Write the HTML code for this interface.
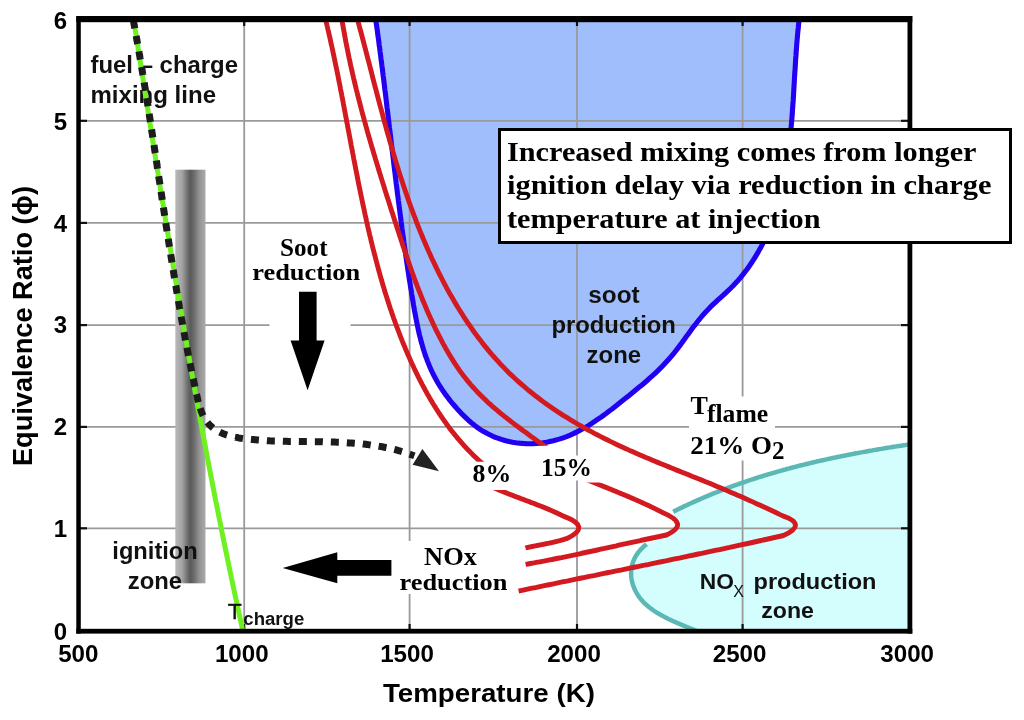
<!DOCTYPE html>
<html><head><meta charset="utf-8"><title>Equivalence ratio vs temperature</title>
<style>
html,body{margin:0;padding:0;background:#fff;}
body{width:1024px;height:720px;overflow:hidden;}
svg{display:block;}
.sans{font-family:"Liberation Sans",Arial,sans-serif;font-weight:bold;}
.serif{font-family:"Liberation Serif","Times New Roman",serif;font-weight:bold;}
</style></head><body>
<svg width="1024" height="720" viewBox="0 0 1024 720">
<defs>
<linearGradient id="bar" x1="0" x2="1" y1="0" y2="0">
<stop offset="0" stop-color="#b8b8b8"/><stop offset="0.22" stop-color="#a4a4a4"/>
<stop offset="0.4" stop-color="#707070"/><stop offset="0.5" stop-color="#5a5a5a"/>
<stop offset="0.62" stop-color="#6c6c6c"/><stop offset="0.8" stop-color="#939393"/>
<stop offset="1" stop-color="#ababab"/></linearGradient>
<clipPath id="plot"><rect x="78" y="19" width="832" height="612"/></clipPath>
<clipPath id="c8a"><rect x="0" y="0" width="1024" height="461.8"/></clipPath>
<clipPath id="c8b"><rect x="0" y="490" width="1024" height="300"/></clipPath>
<clipPath id="c15a"><rect x="0" y="0" width="1024" height="445.8"/></clipPath>
<clipPath id="c15b"><rect x="0" y="482.4" width="1024" height="300"/></clipPath>
</defs>
<rect x="0" y="0" width="1024" height="720" fill="#fff"/>

<g clip-path="url(#plot)">
<path d="M375.0,14.0 375.5,17.5 375.9,20.9 376.4,24.4 376.9,27.8 377.4,31.2 377.8,34.7 378.3,38.1 378.8,41.6 379.2,45.1 379.7,48.5 380.1,52.0 380.6,55.4 381.0,58.9 381.5,62.3 381.9,65.8 382.4,69.2 382.8,72.7 383.2,76.1 383.7,79.6 384.1,83.1 384.5,86.5 384.9,90.0 385.4,93.4 385.8,96.9 386.2,100.4 386.6,103.8 387.0,107.3 387.5,110.8 387.9,114.2 388.3,117.7 388.7,121.1 389.1,124.6 389.5,128.1 390.0,131.5 390.4,135.0 390.8,138.5 391.2,141.9 391.6,145.4 392.0,148.9 392.4,152.3 392.9,155.8 393.3,159.3 393.7,162.7 394.1,166.2 394.5,169.7 395.0,173.1 395.4,176.6 395.8,180.0 396.2,183.5 396.7,187.0 397.1,190.4 397.5,193.9 398.0,197.4 398.4,200.8 398.9,204.3 399.3,207.7 399.8,211.2 400.2,214.7 400.7,218.1 401.1,221.6 401.6,225.1 402.0,228.5 402.5,232.0 403.0,235.4 403.5,238.9 403.9,242.3 404.4,245.8 404.9,249.2 405.4,252.7 405.9,256.2 406.4,259.6 406.9,263.1 407.4,266.5 407.9,270.0 408.5,273.4 409.0,276.9 409.5,280.3 410.1,283.8 410.6,287.2 411.2,290.6 411.7,294.1 412.3,297.5 412.9,301.0 413.4,304.4 414.0,307.8 414.6,311.3 415.3,314.7 415.9,318.1 416.6,321.5 417.3,324.9 418.0,328.3 418.7,331.7 419.5,335.1 420.4,338.4 421.2,341.8 422.2,345.1 423.1,348.4 424.2,351.7 425.2,355.0 426.4,358.2 427.6,361.4 428.9,364.6 430.2,367.8 431.6,370.9 433.1,374.0 434.7,377.1 436.4,380.2 438.1,383.2 439.9,386.2 441.8,389.1 443.8,392.1 445.8,394.9 448.0,397.8 450.1,400.6 452.4,403.3 454.7,406.0 457.0,408.7 459.4,411.3 461.9,413.9 464.4,416.4 467.0,418.9 469.6,421.3 472.3,423.6 475.1,425.8 477.9,427.9 480.8,429.8 483.7,431.6 486.8,433.3 489.8,434.8 492.9,436.3 496.1,437.6 499.3,438.7 502.6,439.8 505.8,440.7 509.1,441.5 512.5,442.2 515.9,442.7 519.2,443.1 522.6,443.4 526.0,443.6 529.5,443.7 532.9,443.6 536.3,443.4 539.7,443.1 543.1,442.7 546.6,442.2 549.9,441.5 553.3,440.8 556.6,439.9 560.0,438.9 563.2,437.8 566.5,436.6 569.7,435.3 572.9,433.9 576.0,432.4 579.2,430.8 582.3,429.1 585.3,427.4 588.4,425.6 591.4,423.7 594.4,421.7 597.3,419.7 600.3,417.7 603.2,415.6 606.1,413.5 608.9,411.3 611.8,409.2 614.6,407.0 617.4,404.8 620.2,402.5 623.0,400.3 625.8,398.1 628.5,395.9 631.2,393.7 633.9,391.5 636.6,389.3 639.3,387.1 642.0,384.9 644.6,382.7 647.2,380.5 649.7,378.2 652.3,375.9 654.8,373.6 657.2,371.3 659.7,368.9 662.1,366.5 664.4,364.1 666.7,361.6 669.0,359.0 671.3,356.4 673.4,353.8 675.6,351.1 677.7,348.4 679.8,345.6 681.9,342.8 683.9,340.0 686.0,337.1 688.1,334.3 690.1,331.5 692.2,328.6 694.3,325.8 696.5,323.0 698.6,320.3 700.9,317.5 703.1,314.9 705.5,312.2 707.9,309.7 710.3,307.2 712.9,304.7 715.4,302.3 718.0,299.9 720.6,297.6 723.3,295.2 725.8,292.8 728.4,290.4 730.9,288.0 733.4,285.5 735.7,283.0 738.1,280.4 740.3,277.8 742.5,275.1 744.6,272.4 746.7,269.7 748.7,266.9 750.7,264.1 752.6,261.2 754.4,258.3 756.2,255.4 758.0,252.4 759.6,249.4 761.3,246.4 762.8,243.3 764.3,240.2 765.8,237.1 767.2,233.9 768.6,230.7 769.9,227.5 771.2,224.3 772.4,221.1 773.6,217.8 774.7,214.5 775.8,211.2 776.8,207.9 777.8,204.6 778.8,201.2 779.7,197.9 780.6,194.5 781.4,191.1 782.2,187.7 783.0,184.3 783.7,180.9 784.4,177.5 785.0,174.1 785.6,170.6 786.2,167.2 786.8,163.7 787.3,160.3 787.8,156.8 788.3,153.3 788.8,149.8 789.2,146.4 789.6,142.9 790.0,139.4 790.3,135.9 790.7,132.4 791.0,128.9 791.3,125.3 791.6,121.8 791.9,118.3 792.2,114.8 792.4,111.3 792.7,107.8 792.9,104.2 793.2,100.7 793.4,97.2 793.6,93.7 793.8,90.2 794.0,86.7 794.2,83.2 794.4,79.6 794.6,76.1 794.8,72.6 795.1,69.1 795.3,65.7 795.5,62.2 795.7,58.7 796.0,55.2 796.2,51.7 796.5,48.3 796.7,44.8 797.0,41.4 797.3,37.9 797.6,34.5 797.9,31.1 798.3,27.7 798.6,24.3 799.0,20.9 799.4,17.5 799.8,14.2 Z" fill="#9fbefb"/>
<path d="M915.0,443.6 913.8,443.8 912.5,444.0 911.3,444.2 910.0,444.3 908.8,444.5 907.5,444.7 906.3,444.9 905.0,445.1 903.8,445.3 902.5,445.5 901.3,445.7 900.0,445.9 898.8,446.0 897.5,446.2 896.2,446.4 895.0,446.6 893.7,446.8 892.5,447.0 891.2,447.2 890.0,447.4 888.7,447.6 887.5,447.8 886.2,448.0 885.0,448.2 883.7,448.4 882.5,448.7 881.2,448.9 880.0,449.1 878.7,449.3 877.5,449.5 876.2,449.7 875.0,449.9 873.7,450.1 872.5,450.4 871.2,450.6 870.0,450.8 868.7,451.0 867.5,451.2 866.2,451.5 865.0,451.7 863.7,451.9 862.5,452.1 861.2,452.4 860.0,452.6 858.8,452.8 857.5,453.1 856.3,453.3 855.0,453.5 853.8,453.8 852.5,454.0 851.3,454.3 850.0,454.5 848.8,454.7 847.5,455.0 846.3,455.2 845.0,455.5 843.8,455.7 842.5,456.0 841.3,456.2 840.1,456.5 838.8,456.7 837.6,457.0 836.3,457.3 835.1,457.5 833.8,457.8 832.6,458.0 831.4,458.3 830.1,458.6 828.9,458.8 827.6,459.1 826.4,459.4 825.2,459.7 823.9,459.9 822.7,460.2 821.4,460.5 820.2,460.8 819.0,461.1 817.7,461.3 816.5,461.6 815.2,461.9 814.0,462.2 812.8,462.5 811.5,462.8 810.3,463.1 809.1,463.4 807.8,463.7 806.6,464.0 805.4,464.3 804.1,464.6 802.9,464.9 801.7,465.2 800.4,465.5 799.2,465.8 798.0,466.1 796.7,466.4 795.5,466.8 794.3,467.1 793.1,467.4 791.8,467.7 790.6,468.0 789.4,468.4 788.2,468.7 786.9,469.0 785.7,469.4 784.5,469.7 783.3,470.0 782.0,470.4 780.8,470.7 779.6,471.1 778.4,471.4 777.2,471.8 775.9,472.1 774.7,472.5 773.5,472.8 772.3,473.2 771.1,473.5 769.8,473.9 768.6,474.2 767.4,474.6 766.2,475.0 765.0,475.3 763.8,475.7 762.6,476.1 761.4,476.5 760.1,476.8 758.9,477.2 757.7,477.6 756.5,478.0 755.3,478.4 754.1,478.8 752.9,479.2 751.7,479.6 750.5,479.9 749.3,480.3 748.1,480.7 746.9,481.1 745.7,481.6 744.5,482.0 743.3,482.4 742.1,482.8 740.9,483.2 739.7,483.6 738.5,484.0 737.3,484.5 736.1,484.9 734.9,485.3 733.7,485.7 732.5,486.2 731.4,486.6 730.2,487.0 729.0,487.5 727.8,487.9 726.6,488.4 725.4,488.8 724.2,489.3 723.0,489.7 721.9,490.2 720.7,490.6 719.5,491.1 718.3,491.6 717.1,492.0 716.0,492.5 714.8,493.0 713.6,493.4 712.4,493.9 711.3,494.4 710.1,494.9 708.9,495.4 707.8,495.8 706.6,496.3 705.4,496.8 704.2,497.3 703.1,497.8 701.9,498.3 700.8,498.8 699.6,499.3 698.4,499.8 697.3,500.4 696.1,500.9 695.0,501.4 693.8,501.9 692.6,502.4 691.5,503.0 690.3,503.5 689.2,504.0 688.0,504.6 686.9,505.1 685.7,505.6 684.6,506.2 683.4,506.7 682.3,507.3 681.1,507.8 680.0,508.4 678.9,508.9 677.7,509.5 676.6,510.1 675.4,510.6 674.3,511.2 673.2,511.8 L678,524 L666,536 L646.3,544.6 646.6,544.2 646.0,544.7 645.4,545.2 644.7,545.7 644.1,546.2 643.6,546.7 643.0,547.3 642.4,547.8 641.9,548.3 641.4,548.8 640.8,549.4 640.3,549.9 639.9,550.5 639.4,551.0 638.9,551.6 638.5,552.1 638.1,552.7 637.6,553.3 637.2,553.8 636.9,554.4 636.5,555.0 636.1,555.5 635.8,556.1 635.4,556.7 635.1,557.3 634.8,557.9 634.5,558.5 634.2,559.1 634.0,559.7 633.7,560.3 633.5,560.9 633.2,561.5 633.0,562.1 632.8,562.7 632.6,563.3 632.4,563.9 632.2,564.5 632.1,565.1 631.9,565.7 631.8,566.3 631.7,567.0 631.6,567.6 631.5,568.2 631.4,568.8 631.3,569.4 631.2,570.0 631.2,570.7 631.1,571.3 631.1,571.9 631.1,572.5 631.1,573.1 631.1,573.7 631.1,574.4 631.1,575.0 631.2,575.6 631.2,576.2 631.3,576.8 631.3,577.4 631.4,578.1 631.5,578.7 631.6,579.3 631.7,579.9 631.8,580.5 631.9,581.1 632.1,581.7 632.2,582.3 632.4,582.9 632.5,583.5 632.7,584.1 632.9,584.7 633.1,585.3 633.3,585.9 633.5,586.5 633.7,587.1 634.0,587.7 634.2,588.2 634.5,588.8 634.7,589.4 635.0,590.0 635.3,590.5 635.6,591.1 635.8,591.7 636.1,592.2 636.5,592.8 636.8,593.3 637.1,593.9 637.4,594.4 637.8,595.0 638.1,595.5 638.5,596.0 638.9,596.6 639.2,597.1 639.6,597.6 640.0,598.1 640.4,598.6 640.8,599.1 641.2,599.6 641.6,600.1 642.1,600.6 642.5,601.1 642.9,601.5 643.4,602.0 643.8,602.5 644.3,602.9 644.8,603.4 645.2,603.9 645.7,604.3 646.2,604.7 646.7,605.2 647.2,605.6 647.7,606.1 648.2,606.5 648.7,606.9 649.2,607.3 649.7,607.7 650.3,608.1 650.8,608.5 651.3,608.9 651.9,609.3 652.4,609.7 653.0,610.1 653.5,610.5 654.1,610.9 654.7,611.2 655.2,611.6 655.8,612.0 656.4,612.4 656.9,612.7 657.5,613.1 658.1,613.4 658.7,613.8 659.3,614.1 659.9,614.5 660.5,614.8 661.1,615.1 661.7,615.5 662.3,615.8 662.9,616.1 663.5,616.5 664.1,616.8 664.7,617.1 665.3,617.4 666.0,617.7 666.6,618.0 667.2,618.3 667.8,618.7 668.4,619.0 669.1,619.3 669.7,619.6 670.3,619.8 670.9,620.1 671.6,620.4 672.2,620.7 672.8,621.0 673.4,621.3 674.1,621.6 674.7,621.8 675.3,622.1 675.9,622.4 676.6,622.7 677.2,622.9 677.8,623.2 678.4,623.5 679.1,623.7 679.7,624.0 680.3,624.3 680.9,624.5 681.5,624.8 682.2,625.0 682.8,625.3 683.4,625.6 684.0,625.8 684.6,626.1 685.2,626.3 685.8,626.6 686.4,626.8 687.0,627.1 687.6,627.3 688.2,627.5 688.8,627.8 689.4,628.0 690.0,628.3 690.5,628.5 691.1,628.8 691.7,629.0 692.3,629.2 692.8,629.5 693.4,629.7 693.9,630.0 694.5,630.2 695.1,630.4 695.6,630.7 696.1,630.9 696.7,631.2 697.2,631.4 697.7,631.6 698.3,631.9 698.8,632.1 699.3,632.3 699.8,632.6 L700,640 L915,640 Z" fill="#d4fdfe"/>
<g stroke="#9a9a9a" stroke-width="1.8"><line x1="244.2" y1="19" x2="244.2" y2="631"/><line x1="409.6" y1="19" x2="409.6" y2="631"/><line x1="577" y1="19" x2="577" y2="631"/><line x1="742.6" y1="19" x2="742.6" y2="631"/><line x1="78" y1="528.3" x2="910" y2="528.3"/><line x1="78" y1="426.9" x2="910" y2="426.9"/><line x1="78" y1="325.1" x2="910" y2="325.1"/><line x1="78" y1="222.9" x2="910" y2="222.9"/><line x1="78" y1="120.8" x2="910" y2="120.8"/></g>
<g stroke="#111" stroke-width="2.2"><line x1="244.2" y1="19" x2="244.2" y2="26"/><line x1="244.2" y1="624" x2="244.2" y2="631"/><line x1="409.6" y1="19" x2="409.6" y2="26"/><line x1="409.6" y1="624" x2="409.6" y2="631"/><line x1="577" y1="19" x2="577" y2="26"/><line x1="577" y1="624" x2="577" y2="631"/><line x1="742.6" y1="19" x2="742.6" y2="26"/><line x1="742.6" y1="624" x2="742.6" y2="631"/><line x1="78" y1="528.3" x2="87" y2="528.3"/><line x1="901" y1="528.3" x2="910" y2="528.3"/><line x1="78" y1="426.9" x2="87" y2="426.9"/><line x1="901" y1="426.9" x2="910" y2="426.9"/><line x1="78" y1="325.1" x2="87" y2="325.1"/><line x1="901" y1="325.1" x2="910" y2="325.1"/><line x1="78" y1="222.9" x2="87" y2="222.9"/><line x1="901" y1="222.9" x2="910" y2="222.9"/><line x1="78" y1="120.8" x2="87" y2="120.8"/><line x1="901" y1="120.8" x2="910" y2="120.8"/></g>
</g>
<text class="sans" font-size="23.5" fill="#111" x="90.5" y="73" textLength="147.5" lengthAdjust="spacingAndGlyphs">fuel – charge</text>
<text class="sans" font-size="23.5" fill="#111" x="90.5" y="102.5" textLength="125.5" lengthAdjust="spacingAndGlyphs">mixing line</text>
<rect x="175.3" y="169.7" width="30.2" height="413.6" fill="url(#bar)"/>
<text class="sans" font-size="23" fill="#111" x="112.3" y="559.3" textLength="85.5" lengthAdjust="spacingAndGlyphs">ignition</text>
<text class="sans" font-size="23" fill="#111" x="127.8" y="588.8" textLength="54.3" lengthAdjust="spacingAndGlyphs">zone</text>
<g clip-path="url(#plot)" fill="none" stroke-linejoin="round">
<path d="M375.0,14.0 375.5,17.5 375.9,20.9 376.4,24.4 376.9,27.8 377.4,31.2 377.8,34.7 378.3,38.1 378.8,41.6 379.2,45.1 379.7,48.5 380.1,52.0 380.6,55.4 381.0,58.9 381.5,62.3 381.9,65.8 382.4,69.2 382.8,72.7 383.2,76.1 383.7,79.6 384.1,83.1 384.5,86.5 384.9,90.0 385.4,93.4 385.8,96.9 386.2,100.4 386.6,103.8 387.0,107.3 387.5,110.8 387.9,114.2 388.3,117.7 388.7,121.1 389.1,124.6 389.5,128.1 390.0,131.5 390.4,135.0 390.8,138.5 391.2,141.9 391.6,145.4 392.0,148.9 392.4,152.3 392.9,155.8 393.3,159.3 393.7,162.7 394.1,166.2 394.5,169.7 395.0,173.1 395.4,176.6 395.8,180.0 396.2,183.5 396.7,187.0 397.1,190.4 397.5,193.9 398.0,197.4 398.4,200.8 398.9,204.3 399.3,207.7 399.8,211.2 400.2,214.7 400.7,218.1 401.1,221.6 401.6,225.1 402.0,228.5 402.5,232.0 403.0,235.4 403.5,238.9 403.9,242.3 404.4,245.8 404.9,249.2 405.4,252.7 405.9,256.2 406.4,259.6 406.9,263.1 407.4,266.5 407.9,270.0 408.5,273.4 409.0,276.9 409.5,280.3 410.1,283.8 410.6,287.2 411.2,290.6 411.7,294.1 412.3,297.5 412.9,301.0 413.4,304.4 414.0,307.8 414.6,311.3 415.3,314.7 415.9,318.1 416.6,321.5 417.3,324.9 418.0,328.3 418.7,331.7 419.5,335.1 420.4,338.4 421.2,341.8 422.2,345.1 423.1,348.4 424.2,351.7 425.2,355.0 426.4,358.2 427.6,361.4 428.9,364.6 430.2,367.8 431.6,370.9 433.1,374.0 434.7,377.1 436.4,380.2 438.1,383.2 439.9,386.2 441.8,389.1 443.8,392.1 445.8,394.9 448.0,397.8 450.1,400.6 452.4,403.3 454.7,406.0 457.0,408.7 459.4,411.3 461.9,413.9 464.4,416.4 467.0,418.9 469.6,421.3 472.3,423.6 475.1,425.8 477.9,427.9 480.8,429.8 483.7,431.6 486.8,433.3 489.8,434.8 492.9,436.3 496.1,437.6 499.3,438.7 502.6,439.8 505.8,440.7 509.1,441.5 512.5,442.2 515.9,442.7 519.2,443.1 522.6,443.4 526.0,443.6 529.5,443.7 532.9,443.6 536.3,443.4 539.7,443.1 543.1,442.7 546.6,442.2 549.9,441.5 553.3,440.8 556.6,439.9 560.0,438.9 563.2,437.8 566.5,436.6 569.7,435.3 572.9,433.9 576.0,432.4 579.2,430.8 582.3,429.1 585.3,427.4 588.4,425.6 591.4,423.7 594.4,421.7 597.3,419.7 600.3,417.7 603.2,415.6 606.1,413.5 608.9,411.3 611.8,409.2 614.6,407.0 617.4,404.8 620.2,402.5 623.0,400.3 625.8,398.1 628.5,395.9 631.2,393.7 633.9,391.5 636.6,389.3 639.3,387.1 642.0,384.9 644.6,382.7 647.2,380.5 649.7,378.2 652.3,375.9 654.8,373.6 657.2,371.3 659.7,368.9 662.1,366.5 664.4,364.1 666.7,361.6 669.0,359.0 671.3,356.4 673.4,353.8 675.6,351.1 677.7,348.4 679.8,345.6 681.9,342.8 683.9,340.0 686.0,337.1 688.1,334.3 690.1,331.5 692.2,328.6 694.3,325.8 696.5,323.0 698.6,320.3 700.9,317.5 703.1,314.9 705.5,312.2 707.9,309.7 710.3,307.2 712.9,304.7 715.4,302.3 718.0,299.9 720.6,297.6 723.3,295.2 725.8,292.8 728.4,290.4 730.9,288.0 733.4,285.5 735.7,283.0 738.1,280.4 740.3,277.8 742.5,275.1 744.6,272.4 746.7,269.7 748.7,266.9 750.7,264.1 752.6,261.2 754.4,258.3 756.2,255.4 758.0,252.4 759.6,249.4 761.3,246.4 762.8,243.3 764.3,240.2 765.8,237.1 767.2,233.9 768.6,230.7 769.9,227.5 771.2,224.3 772.4,221.1 773.6,217.8 774.7,214.5 775.8,211.2 776.8,207.9 777.8,204.6 778.8,201.2 779.7,197.9 780.6,194.5 781.4,191.1 782.2,187.7 783.0,184.3 783.7,180.9 784.4,177.5 785.0,174.1 785.6,170.6 786.2,167.2 786.8,163.7 787.3,160.3 787.8,156.8 788.3,153.3 788.8,149.8 789.2,146.4 789.6,142.9 790.0,139.4 790.3,135.9 790.7,132.4 791.0,128.9 791.3,125.3 791.6,121.8 791.9,118.3 792.2,114.8 792.4,111.3 792.7,107.8 792.9,104.2 793.2,100.7 793.4,97.2 793.6,93.7 793.8,90.2 794.0,86.7 794.2,83.2 794.4,79.6 794.6,76.1 794.8,72.6 795.1,69.1 795.3,65.7 795.5,62.2 795.7,58.7 796.0,55.2 796.2,51.7 796.5,48.3 796.7,44.8 797.0,41.4 797.3,37.9 797.6,34.5 797.9,31.1 798.3,27.7 798.6,24.3 799.0,20.9 799.4,17.5 799.8,14.2" stroke="#2200f2" stroke-width="5.1"/>
<path d="M915.0,443.6 913.8,443.8 912.5,444.0 911.3,444.2 910.0,444.3 908.8,444.5 907.5,444.7 906.3,444.9 905.0,445.1 903.8,445.3 902.5,445.5 901.3,445.7 900.0,445.9 898.8,446.0 897.5,446.2 896.2,446.4 895.0,446.6 893.7,446.8 892.5,447.0 891.2,447.2 890.0,447.4 888.7,447.6 887.5,447.8 886.2,448.0 885.0,448.2 883.7,448.4 882.5,448.7 881.2,448.9 880.0,449.1 878.7,449.3 877.5,449.5 876.2,449.7 875.0,449.9 873.7,450.1 872.5,450.4 871.2,450.6 870.0,450.8 868.7,451.0 867.5,451.2 866.2,451.5 865.0,451.7 863.7,451.9 862.5,452.1 861.2,452.4 860.0,452.6 858.8,452.8 857.5,453.1 856.3,453.3 855.0,453.5 853.8,453.8 852.5,454.0 851.3,454.3 850.0,454.5 848.8,454.7 847.5,455.0 846.3,455.2 845.0,455.5 843.8,455.7 842.5,456.0 841.3,456.2 840.1,456.5 838.8,456.7 837.6,457.0 836.3,457.3 835.1,457.5 833.8,457.8 832.6,458.0 831.4,458.3 830.1,458.6 828.9,458.8 827.6,459.1 826.4,459.4 825.2,459.7 823.9,459.9 822.7,460.2 821.4,460.5 820.2,460.8 819.0,461.1 817.7,461.3 816.5,461.6 815.2,461.9 814.0,462.2 812.8,462.5 811.5,462.8 810.3,463.1 809.1,463.4 807.8,463.7 806.6,464.0 805.4,464.3 804.1,464.6 802.9,464.9 801.7,465.2 800.4,465.5 799.2,465.8 798.0,466.1 796.7,466.4 795.5,466.8 794.3,467.1 793.1,467.4 791.8,467.7 790.6,468.0 789.4,468.4 788.2,468.7 786.9,469.0 785.7,469.4 784.5,469.7 783.3,470.0 782.0,470.4 780.8,470.7 779.6,471.1 778.4,471.4 777.2,471.8 775.9,472.1 774.7,472.5 773.5,472.8 772.3,473.2 771.1,473.5 769.8,473.9 768.6,474.2 767.4,474.6 766.2,475.0 765.0,475.3 763.8,475.7 762.6,476.1 761.4,476.5 760.1,476.8 758.9,477.2 757.7,477.6 756.5,478.0 755.3,478.4 754.1,478.8 752.9,479.2 751.7,479.6 750.5,479.9 749.3,480.3 748.1,480.7 746.9,481.1 745.7,481.6 744.5,482.0 743.3,482.4 742.1,482.8 740.9,483.2 739.7,483.6 738.5,484.0 737.3,484.5 736.1,484.9 734.9,485.3 733.7,485.7 732.5,486.2 731.4,486.6 730.2,487.0 729.0,487.5 727.8,487.9 726.6,488.4 725.4,488.8 724.2,489.3 723.0,489.7 721.9,490.2 720.7,490.6 719.5,491.1 718.3,491.6 717.1,492.0 716.0,492.5 714.8,493.0 713.6,493.4 712.4,493.9 711.3,494.4 710.1,494.9 708.9,495.4 707.8,495.8 706.6,496.3 705.4,496.8 704.2,497.3 703.1,497.8 701.9,498.3 700.8,498.8 699.6,499.3 698.4,499.8 697.3,500.4 696.1,500.9 695.0,501.4 693.8,501.9 692.6,502.4 691.5,503.0 690.3,503.5 689.2,504.0 688.0,504.6 686.9,505.1 685.7,505.6 684.6,506.2 683.4,506.7 682.3,507.3 681.1,507.8 680.0,508.4 678.9,508.9 677.7,509.5 676.6,510.1 675.4,510.6 674.3,511.2 673.2,511.8" stroke="#5cb8b4" stroke-width="4.5"/>
<path d="M646.6,544.2 646.0,544.7 645.4,545.2 644.7,545.7 644.1,546.2 643.6,546.7 643.0,547.3 642.4,547.8 641.9,548.3 641.4,548.8 640.8,549.4 640.3,549.9 639.9,550.5 639.4,551.0 638.9,551.6 638.5,552.1 638.1,552.7 637.6,553.3 637.2,553.8 636.9,554.4 636.5,555.0 636.1,555.5 635.8,556.1 635.4,556.7 635.1,557.3 634.8,557.9 634.5,558.5 634.2,559.1 634.0,559.7 633.7,560.3 633.5,560.9 633.2,561.5 633.0,562.1 632.8,562.7 632.6,563.3 632.4,563.9 632.2,564.5 632.1,565.1 631.9,565.7 631.8,566.3 631.7,567.0 631.6,567.6 631.5,568.2 631.4,568.8 631.3,569.4 631.2,570.0 631.2,570.7 631.1,571.3 631.1,571.9 631.1,572.5 631.1,573.1 631.1,573.7 631.1,574.4 631.1,575.0 631.2,575.6 631.2,576.2 631.3,576.8 631.3,577.4 631.4,578.1 631.5,578.7 631.6,579.3 631.7,579.9 631.8,580.5 631.9,581.1 632.1,581.7 632.2,582.3 632.4,582.9 632.5,583.5 632.7,584.1 632.9,584.7 633.1,585.3 633.3,585.9 633.5,586.5 633.7,587.1 634.0,587.7 634.2,588.2 634.5,588.8 634.7,589.4 635.0,590.0 635.3,590.5 635.6,591.1 635.8,591.7 636.1,592.2 636.5,592.8 636.8,593.3 637.1,593.9 637.4,594.4 637.8,595.0 638.1,595.5 638.5,596.0 638.9,596.6 639.2,597.1 639.6,597.6 640.0,598.1 640.4,598.6 640.8,599.1 641.2,599.6 641.6,600.1 642.1,600.6 642.5,601.1 642.9,601.5 643.4,602.0 643.8,602.5 644.3,602.9 644.8,603.4 645.2,603.9 645.7,604.3 646.2,604.7 646.7,605.2 647.2,605.6 647.7,606.1 648.2,606.5 648.7,606.9 649.2,607.3 649.7,607.7 650.3,608.1 650.8,608.5 651.3,608.9 651.9,609.3 652.4,609.7 653.0,610.1 653.5,610.5 654.1,610.9 654.7,611.2 655.2,611.6 655.8,612.0 656.4,612.4 656.9,612.7 657.5,613.1 658.1,613.4 658.7,613.8 659.3,614.1 659.9,614.5 660.5,614.8 661.1,615.1 661.7,615.5 662.3,615.8 662.9,616.1 663.5,616.5 664.1,616.8 664.7,617.1 665.3,617.4 666.0,617.7 666.6,618.0 667.2,618.3 667.8,618.7 668.4,619.0 669.1,619.3 669.7,619.6 670.3,619.8 670.9,620.1 671.6,620.4 672.2,620.7 672.8,621.0 673.4,621.3 674.1,621.6 674.7,621.8 675.3,622.1 675.9,622.4 676.6,622.7 677.2,622.9 677.8,623.2 678.4,623.5 679.1,623.7 679.7,624.0 680.3,624.3 680.9,624.5 681.5,624.8 682.2,625.0 682.8,625.3 683.4,625.6 684.0,625.8 684.6,626.1 685.2,626.3 685.8,626.6 686.4,626.8 687.0,627.1 687.6,627.3 688.2,627.5 688.8,627.8 689.4,628.0 690.0,628.3 690.5,628.5 691.1,628.8 691.7,629.0 692.3,629.2 692.8,629.5 693.4,629.7 693.9,630.0 694.5,630.2 695.1,630.4 695.6,630.7 696.1,630.9 696.7,631.2 697.2,631.4 697.7,631.6 698.3,631.9 698.8,632.1 699.3,632.3 699.8,632.6" stroke="#5cb8b4" stroke-width="4.5"/>
<path d="M324.3,14.3 324.8,16.2 325.2,18.1 325.7,19.9 326.1,21.8 326.6,23.7 327.0,25.5 327.5,27.4 327.9,29.3 328.4,31.2 328.8,33.1 329.2,34.9 329.7,36.8 330.1,38.7 330.5,40.6 330.9,42.5 331.3,44.4 331.8,46.3 332.2,48.2 332.6,50.1 333.0,52.0 333.4,53.9 333.8,55.8 334.2,57.7 334.6,59.6 335.0,61.5 335.4,63.4 335.8,65.4 336.2,67.3 336.6,69.2 337.0,71.1 337.4,73.0 337.8,75.0 338.2,76.9 338.5,78.8 338.9,80.7 339.3,82.7 339.7,84.6 340.1,86.5 340.4,88.4 340.8,90.4 341.2,92.3 341.6,94.2 341.9,96.2 342.3,98.1 342.7,100.1 343.1,102.0 343.4,103.9 343.8,105.9 344.2,107.8 344.5,109.8 344.9,111.7 345.3,113.7 345.6,115.6 346.0,117.5 346.4,119.5 346.7,121.4 347.1,123.4 347.5,125.3 347.8,127.3 348.2,129.2 348.6,131.2 348.9,133.1 349.3,135.1 349.7,137.0 350.0,139.0 350.4,141.0 350.8,142.9 351.1,144.9 351.5,146.8 351.9,148.8 352.3,150.7 352.6,152.7 353.0,154.6 353.4,156.6 353.7,158.5 354.1,160.5 354.5,162.5 354.9,164.4 355.3,166.4 355.6,168.3 356.0,170.3 356.4,172.2 356.8,174.2 357.2,176.1 357.5,178.1 357.9,180.0 358.3,182.0 358.7,184.0 359.1,185.9 359.5,187.9 359.9,189.8 360.3,191.8 360.7,193.7 361.1,195.7 361.5,197.6 361.9,199.6 362.3,201.5 362.7,203.5 363.1,205.4 363.6,207.4 364.0,209.3 364.4,211.3 364.8,213.2 365.2,215.1 365.7,217.1 366.1,219.0 366.5,221.0 367.0,222.9 367.4,224.9 367.8,226.8 368.3,228.7 368.7,230.7 369.2,232.6 369.6,234.5 370.1,236.5 370.6,238.4 371.0,240.3 371.5,242.3 372.0,244.2 372.4,246.1 372.9,248.1 373.4,250.0 373.9,251.9 374.4,253.8 374.9,255.7 375.4,257.7 375.9,259.6 376.4,261.5 376.9,263.4 377.4,265.3 377.9,267.2 378.4,269.1 378.9,271.0 379.5,272.9 380.0,274.9 380.5,276.8 381.1,278.7 381.6,280.6 382.2,282.4 382.7,284.3 383.3,286.2 383.9,288.1 384.4,290.0 385.0,291.9 385.6,293.8 386.2,295.7 386.8,297.5 387.4,299.4 388.0,301.3 388.6,303.2 389.2,305.0 389.8,306.9 390.4,308.8 391.1,310.6 391.7,312.5 392.3,314.4 393.0,316.2 393.6,318.1 394.3,319.9 395.0,321.8 395.6,323.6 396.3,325.5 397.0,327.3 397.7,329.1 398.4,331.0 399.1,332.8 399.8,334.6 400.5,336.5 401.2,338.3 401.9,340.1 402.6,341.9 403.4,343.7 404.1,345.5 404.9,347.3 405.6,349.2 406.4,351.0 407.2,352.8 407.9,354.6 408.7,356.3 409.5,358.1 410.3,359.9 411.1,361.7 411.9,363.5 412.8,365.3 413.6,367.0 414.4,368.8 415.3,370.6 416.1,372.3 417.0,374.1 417.8,375.8 418.7,377.6 419.6,379.3 420.5,381.1 421.4,382.8 422.3,384.6 423.2,386.3 424.1,388.0 425.0,389.7 426.0,391.4 426.9,393.2 427.9,394.9 428.9,396.6 429.8,398.3 430.8,399.9 431.8,401.6 432.8,403.3 433.9,405.0 434.9,406.6 435.9,408.3 437.0,409.9 438.0,411.6 439.1,413.2 440.2,414.9 441.3,416.5 442.4,418.1 443.5,419.7 444.6,421.3 445.8,422.9 446.9,424.5 448.1,426.1 449.3,427.7 450.4,429.2 451.6,430.8 452.9,432.3 454.1,433.9 455.3,435.4 456.6,436.9 457.8,438.4 459.1,439.9 460.4,441.4 461.7,442.9 463.0,444.4 464.3,445.9 465.7,447.3 467.0,448.8 468.4,450.2 469.8,451.6 471.2,453.1 472.6,454.5 474.0,455.9 475.5,457.3 476.9,458.6 478.4,460.0 479.9,461.4 481.4,462.7 482.9,464.0 484.4,465.4 486.0,466.7 487.6,468.0" stroke="#d21a20" stroke-width="4.9" clip-path="url(#c8a)"/>
<path d="M341.0,14.0 341.3,16.0 341.6,18.0 342.0,20.0 342.3,22.1 342.6,24.1 343.0,26.1 343.3,28.1 343.7,30.1 344.1,32.1 344.4,34.1 344.8,36.1 345.2,38.1 345.5,40.1 345.9,42.1 346.3,44.1 346.7,46.1 347.1,48.1 347.5,50.1 347.9,52.1 348.3,54.1 348.7,56.1 349.1,58.1 349.6,60.0 350.0,62.0 350.4,64.0 350.8,66.0 351.3,67.9 351.7,69.9 352.2,71.9 352.6,73.8 353.1,75.8 353.5,77.8 354.0,79.7 354.4,81.7 354.9,83.7 355.4,85.6 355.9,87.6 356.3,89.5 356.8,91.5 357.3,93.4 357.8,95.4 358.3,97.3 358.8,99.3 359.3,101.2 359.8,103.2 360.3,105.1 360.8,107.1 361.3,109.0 361.8,111.0 362.3,112.9 362.8,114.8 363.4,116.8 363.9,118.7 364.4,120.6 365.0,122.6 365.5,124.5 366.0,126.4 366.6,128.4 367.1,130.3 367.6,132.2 368.2,134.2 368.7,136.1 369.3,138.0 369.9,140.0 370.4,141.9 371.0,143.8 371.5,145.7 372.1,147.7 372.7,149.6 373.2,151.5 373.8,153.4 374.4,155.4 375.0,157.3 375.5,159.2 376.1,161.1 376.7,163.1 377.3,165.0 377.9,166.9 378.4,168.8 379.0,170.8 379.6,172.7 380.2,174.6 380.8,176.5 381.4,178.4 382.0,180.4 382.6,182.3 383.2,184.2 383.8,186.1 384.4,188.0 385.0,190.0 385.6,191.9 386.2,193.8 386.8,195.7 387.4,197.7 388.1,199.6 388.7,201.5 389.3,203.4 389.9,205.4 390.5,207.3 391.1,209.2 391.7,211.1 392.4,213.1 393.0,215.0 393.6,216.9 394.2,218.8 394.8,220.8 395.5,222.7 396.1,224.6 396.7,226.5 397.3,228.5 398.0,230.4 398.6,232.3 399.2,234.3 399.9,236.2 400.5,238.1 401.1,240.1 401.8,242.0 402.4,243.9 403.0,245.9 403.7,247.8 404.3,249.7 405.0,251.6 405.6,253.6 406.3,255.5 406.9,257.4 407.6,259.3 408.3,261.3 408.9,263.2 409.6,265.1 410.3,267.0 410.9,268.9 411.6,270.8 412.3,272.8 413.0,274.7 413.7,276.6 414.4,278.5 415.1,280.4 415.8,282.3 416.5,284.2 417.2,286.1 418.0,288.0 418.7,289.9 419.4,291.8 420.2,293.6 420.9,295.5 421.7,297.4 422.4,299.3 423.2,301.2 424.0,303.0 424.8,304.9 425.5,306.8 426.3,308.6 427.1,310.5 427.9,312.3 428.7,314.2 429.6,316.0 430.4,317.9 431.2,319.7 432.1,321.5 432.9,323.3 433.8,325.2 434.6,327.0 435.5,328.8 436.4,330.6 437.3,332.4 438.2,334.2 439.1,336.0 440.0,337.8 441.0,339.5 441.9,341.3 442.8,343.1 443.8,344.9 444.8,346.6 445.7,348.4 446.7,350.1 447.7,351.8 448.7,353.6 449.8,355.3 450.8,357.0 451.8,358.7 452.9,360.4 454.0,362.1 455.1,363.8 456.2,365.4 457.3,367.1 458.4,368.7 459.5,370.4 460.7,372.0 461.9,373.6 463.1,375.2 464.3,376.8 465.5,378.3 466.8,379.9 468.0,381.4 469.3,382.9 470.6,384.5 471.9,386.0 473.3,387.5 474.6,388.9 476.0,390.4 477.3,391.9 478.7,393.3 480.1,394.7 481.5,396.1 483.0,397.5 484.4,398.9 485.9,400.3 487.3,401.7 488.8,403.1 490.3,404.4 491.8,405.8 493.3,407.1 494.8,408.4 496.4,409.7 497.9,411.0 499.5,412.3 501.0,413.6 502.6,414.9 504.2,416.2 505.8,417.4 507.4,418.7 509.0,419.9 510.6,421.2 512.2,422.4 513.8,423.6 515.4,424.9 517.1,426.1 518.7,427.3 520.3,428.5 521.9,429.7 523.6,430.9 525.2,432.1 526.9,433.3 528.5,434.5 530.1,435.7 531.8,436.9 533.4,438.1 535.0,439.2 536.7,440.4 538.3,441.6 539.9,442.8 541.6,443.9 543.2,445.1 544.8,446.3 546.4,447.4 548.0,448.6 549.7,449.8 551.3,450.9 552.9,452.1" stroke="#d21a20" stroke-width="4.9" clip-path="url(#c15a)"/>
<path d="M484.0,483.4 484.4,483.6 484.8,483.8 485.2,483.9 485.6,484.1 486.0,484.3 486.4,484.5 486.8,484.7 487.2,484.9 487.6,485.1 488.0,485.2 488.4,485.4 488.8,485.6 489.2,485.8 489.6,486.0 490.0,486.1 490.4,486.3 490.8,486.5 491.2,486.7 491.6,486.8 492.0,487.0 492.4,487.2 492.8,487.4 493.2,487.5 493.6,487.7 494.0,487.9 494.4,488.1 494.8,488.2 495.2,488.4 495.6,488.6 496.0,488.7 496.4,488.9 496.8,489.1 497.2,489.2 497.6,489.4 498.0,489.6 498.4,489.8 498.8,489.9 499.2,490.1 499.6,490.3 500.0,490.4 500.4,490.6 500.8,490.7 501.2,490.9 501.6,491.1 502.0,491.2 502.4,491.4 502.8,491.6 503.2,491.7 503.6,491.9 504.0,492.0 504.4,492.2 504.8,492.4 505.2,492.5 505.6,492.7 506.0,492.9 506.4,493.0 506.8,493.2 507.2,493.3 507.7,493.5 508.1,493.6 508.5,493.8 508.9,494.0 509.3,494.1 509.7,494.3 510.1,494.4 510.5,494.6 510.9,494.7 511.3,494.9 511.7,495.1 512.1,495.2 512.5,495.4 512.9,495.5 513.3,495.7 513.7,495.8 514.1,496.0 514.6,496.1 515.0,496.3 515.4,496.5 515.8,496.6 516.2,496.8 516.6,496.9 517.0,497.1 517.4,497.2 517.8,497.4 518.2,497.5 518.6,497.7 519.0,497.8 519.4,498.0 519.8,498.1 520.3,498.3 520.7,498.5 521.1,498.6 521.5,498.8 521.9,498.9 522.3,499.1 522.7,499.2 523.1,499.4 523.5,499.5 523.9,499.7 524.3,499.8 524.7,500.0 525.1,500.1 525.5,500.3 526.0,500.4 526.4,500.6 526.8,500.8 527.2,500.9 527.6,501.1 528.0,501.2 528.4,501.4 528.8,501.5 529.2,501.7 529.6,501.8 530.0,502.0 530.4,502.1 530.8,502.3 531.2,502.5 531.7,502.6 532.1,502.8 532.5,502.9 532.9,503.1 533.3,503.2 533.7,503.4 534.1,503.5 534.5,503.7 534.9,503.9 535.3,504.0 535.7,504.2 536.1,504.3 536.5,504.5 536.9,504.6 537.3,504.8 537.7,505.0 538.1,505.1 538.5,505.3 538.9,505.4 539.4,505.6 539.8,505.8 540.2,505.9 540.6,506.1 541.0,506.2 541.4,506.4 541.8,506.6 542.2,506.7 542.6,506.9 543.0,507.0 543.4,507.2 543.8,507.4 544.2,507.5 544.6,507.7 545.0,507.9 545.4,508.0 545.8,508.2 546.2,508.4 546.6,508.5 547.0,508.7 547.4,508.9 547.8,509.0 548.2,509.2 548.6,509.4 549.0,509.5 549.4,509.7 549.8,509.9 550.2,510.1 550.6,510.2 551.0,510.4 551.4,510.6 551.8,510.7 552.2,510.9 552.6,511.1 553.0,511.3 553.4,511.4 553.8,511.6 554.2,511.8 554.6,512.0 555.0,512.2 555.4,512.3 555.8,512.5 556.2,512.7 556.6,512.9 557.0,513.0 557.4,513.2 557.8,513.4 558.1,513.6 558.5,513.8 558.9,514.0 559.3,514.1 559.7,514.3 560.1,514.5 560.5,514.7 560.9,514.9 561.3,515.1 561.7,515.3 562.1,515.5 562.5,515.7 562.9,515.8 563.2,516.0 563.6,516.2 564.0,516.4 Q591.8,526.6 567.5,538.2 567.2,538.3 566.8,538.4 566.5,538.6 566.1,538.7 565.8,538.8 565.4,538.9 565.1,539.0 564.7,539.1 564.4,539.2 564.0,539.3 563.7,539.5 563.3,539.6 563.0,539.7 562.6,539.8 562.3,539.9 561.9,540.0 561.6,540.1 561.2,540.2 560.8,540.3 560.5,540.4 560.1,540.5 559.8,540.6 559.4,540.7 559.1,540.8 558.7,540.9 558.4,540.9 558.0,541.0 557.7,541.1 557.3,541.2 556.9,541.3 556.6,541.4 556.2,541.5 555.9,541.6 555.5,541.7 555.2,541.7 554.8,541.8 554.5,541.9 554.1,542.0 553.7,542.1 553.4,542.2 553.0,542.2 552.7,542.3 552.3,542.4 552.0,542.5 551.6,542.6 551.2,542.6 550.9,542.7 550.5,542.8 550.2,542.9 549.8,543.0 549.4,543.0 549.1,543.1 548.7,543.2 548.4,543.3 548.0,543.3 547.6,543.4 547.3,543.5 546.9,543.6 546.6,543.6 546.2,543.7 545.8,543.8 545.5,543.8 545.1,543.9 544.8,544.0 544.4,544.1 544.0,544.1 543.7,544.2 543.3,544.3 543.0,544.3 542.6,544.4 542.2,544.5 541.9,544.6 541.5,544.6 541.2,544.7 540.8,544.8 540.4,544.8 540.1,544.9 539.7,545.0 539.4,545.0 539.0,545.1 538.6,545.2 538.3,545.2 537.9,545.3 537.6,545.4 537.2,545.5 536.8,545.5 536.5,545.6 536.1,545.7 535.8,545.7 535.4,545.8 535.0,545.9 534.7,545.9 534.3,546.0 534.0,546.1 533.6,546.2 533.2,546.2 532.9,546.3 532.5,546.4 532.2,546.5 531.8,546.5 531.4,546.6 531.1,546.7 530.7,546.7 530.4,546.8 530.0,546.9 529.6,547.0 529.3,547.0 528.9,547.1 528.6,547.2 528.2,547.3 527.9,547.4 527.5,547.4 527.1,547.5 526.8,547.6 526.4,547.7 526.1,547.8 525.7,547.8 525.4,547.9 525.0,548.0" stroke="#d21a20" stroke-width="4.9" clip-path="url(#c8b)"/>
<path d="M578.0,476.0 578.4,476.2 578.9,476.4 579.3,476.5 579.7,476.7 580.1,476.9 580.6,477.1 581.0,477.2 581.4,477.4 581.8,477.6 582.3,477.8 582.7,478.0 583.1,478.1 583.6,478.3 584.0,478.5 584.4,478.7 584.8,478.8 585.3,479.0 585.7,479.2 586.1,479.4 586.6,479.5 587.0,479.7 587.4,479.9 587.8,480.1 588.3,480.2 588.7,480.4 589.1,480.6 589.5,480.8 590.0,480.9 590.4,481.1 590.8,481.3 591.3,481.5 591.7,481.6 592.1,481.8 592.6,482.0 593.0,482.2 593.4,482.3 593.8,482.5 594.3,482.7 594.7,482.8 595.1,483.0 595.6,483.2 596.0,483.4 596.4,483.5 596.8,483.7 597.3,483.9 597.7,484.1 598.1,484.2 598.6,484.4 599.0,484.6 599.4,484.8 599.8,484.9 600.3,485.1 600.7,485.3 601.1,485.4 601.6,485.6 602.0,485.8 602.4,486.0 602.8,486.1 603.3,486.3 603.7,486.5 604.1,486.7 604.6,486.8 605.0,487.0 605.4,487.2 605.9,487.3 606.3,487.5 606.7,487.7 607.1,487.9 607.6,488.0 608.0,488.2 608.4,488.4 608.9,488.6 609.3,488.7 609.7,488.9 610.1,489.1 610.6,489.3 611.0,489.4 611.4,489.6 611.9,489.8 612.3,490.0 612.7,490.1 613.1,490.3 613.6,490.5 614.0,490.7 614.4,490.8 614.9,491.0 615.3,491.2 615.7,491.4 616.1,491.5 616.6,491.7 617.0,491.9 617.4,492.1 617.9,492.2 618.3,492.4 618.7,492.6 619.1,492.8 619.6,492.9 620.0,493.1 620.4,493.3 620.8,493.5 621.3,493.6 621.7,493.8 622.1,494.0 622.6,494.2 623.0,494.4 623.4,494.5 623.8,494.7 624.3,494.9 624.7,495.1 625.1,495.2 625.5,495.4 626.0,495.6 626.4,495.8 626.8,496.0 627.2,496.1 627.7,496.3 628.1,496.5 628.5,496.7 629.0,496.9 629.4,497.0 629.8,497.2 630.2,497.4 630.7,497.6 631.1,497.8 631.5,498.0 631.9,498.1 632.4,498.3 632.8,498.5 633.2,498.7 633.6,498.9 634.1,499.1 634.5,499.2 634.9,499.4 635.3,499.6 635.7,499.8 636.2,500.0 636.6,500.2 637.0,500.4 637.4,500.5 637.9,500.7 638.3,500.9 638.7,501.1 639.1,501.3 639.6,501.5 640.0,501.7 640.4,501.9 640.8,502.1 641.2,502.2 641.7,502.4 642.1,502.6 642.5,502.8 642.9,503.0 643.3,503.2 643.8,503.4 644.2,503.6 644.6,503.8 645.0,504.0 645.5,504.2 645.9,504.4 646.3,504.6 646.7,504.7 647.1,504.9 647.5,505.1 648.0,505.3 648.4,505.5 648.8,505.7 649.2,505.9 649.6,506.1 650.1,506.3 650.5,506.5 650.9,506.7 651.3,506.9 651.7,507.1 652.1,507.3 652.6,507.5 653.0,507.7 653.4,507.9 653.8,508.1 654.2,508.3 654.6,508.5 655.1,508.7 655.5,508.9 655.9,509.1 656.3,509.4 656.7,509.6 657.1,509.8 657.5,510.0 658.0,510.2 658.4,510.4 658.8,510.6 659.2,510.8 659.6,511.0 660.0,511.2 660.4,511.4 660.9,511.6 661.3,511.9 661.7,512.1 662.1,512.3 662.5,512.5 Q690.7,524.2 666.5,535.0 665.3,535.3 664.1,535.5 662.9,535.7 661.7,536.0 660.5,536.2 659.3,536.5 658.1,536.7 656.9,537.0 655.8,537.2 654.6,537.5 653.4,537.7 652.2,538.0 651.0,538.3 649.8,538.5 648.6,538.8 647.4,539.0 646.2,539.3 645.0,539.5 643.8,539.8 642.6,540.0 641.4,540.3 640.2,540.6 639.1,540.8 637.9,541.1 636.7,541.3 635.5,541.6 634.3,541.8 633.1,542.1 631.9,542.4 630.7,542.6 629.5,542.9 628.3,543.1 627.1,543.4 625.9,543.7 624.8,543.9 623.6,544.2 622.4,544.5 621.2,544.7 620.0,545.0 618.8,545.2 617.6,545.5 616.4,545.8 615.2,546.0 614.0,546.3 612.8,546.6 611.6,546.8 610.5,547.1 609.3,547.3 608.1,547.6 606.9,547.9 605.7,548.1 604.5,548.4 603.3,548.6 602.1,548.9 600.9,549.2 599.7,549.4 598.5,549.7 597.3,550.0 596.2,550.2 595.0,550.5 593.8,550.7 592.6,551.0 591.4,551.2 590.2,551.5 589.0,551.8 587.8,552.0 586.6,552.3 585.4,552.5 584.2,552.8 583.0,553.0 581.8,553.3 580.7,553.6 579.5,553.8 578.3,554.1 577.1,554.3 575.9,554.6 574.7,554.8 573.5,555.1 572.3,555.3 571.1,555.6 569.9,555.8 568.7,556.1 567.5,556.3 566.3,556.6 565.1,556.8 563.9,557.1 562.7,557.3 561.6,557.6 560.4,557.8 559.2,558.0 558.0,558.3 556.8,558.5 555.6,558.8 554.4,559.0 553.2,559.2 552.0,559.5 550.8,559.7 549.6,559.9 548.4,560.2 547.2,560.4 546.0,560.6 544.8,560.9 543.6,561.1 542.4,561.3 541.2,561.6 540.0,561.8 538.8,562.0 537.6,562.2 536.4,562.4 535.2,562.7 534.0,562.9 532.8,563.1 531.6,563.3 530.4,563.5 529.2,563.8 528.0,564.0 526.8,564.2 525.6,564.4 524.4,564.6" stroke="#d21a20" stroke-width="4.9" clip-path="url(#c15b)"/>
<path d="M356.0,14.0 356.9,17.5 357.9,20.9 358.8,24.3 359.7,27.8 360.7,31.2 361.6,34.7 362.5,38.1 363.4,41.5 364.3,45.0 365.2,48.4 366.1,51.9 367.0,55.3 367.9,58.8 368.8,62.2 369.7,65.6 370.6,69.1 371.5,72.5 372.3,76.0 373.2,79.4 374.1,82.8 375.0,86.3 375.9,89.7 376.8,93.1 377.7,96.6 378.6,100.0 379.5,103.4 380.4,106.9 381.4,110.3 382.3,113.7 383.2,117.1 384.1,120.5 385.1,124.0 386.0,127.4 386.9,130.8 387.9,134.2 388.9,137.6 389.8,141.0 390.8,144.4 391.8,147.8 392.8,151.2 393.8,154.6 394.8,158.0 395.8,161.4 396.8,164.7 397.9,168.1 398.9,171.5 400.0,174.9 401.1,178.2 402.2,181.6 403.3,184.9 404.4,188.3 405.5,191.6 406.7,195.0 407.8,198.3 409.0,201.7 410.2,205.0 411.4,208.3 412.6,211.6 413.8,214.9 415.1,218.2 416.3,221.5 417.6,224.8 418.9,228.1 420.2,231.4 421.6,234.7 422.9,238.0 424.3,241.2 425.7,244.5 427.1,247.7 428.5,251.0 430.0,254.2 431.4,257.4 432.9,260.7 434.5,263.9 436.0,267.1 437.6,270.3 439.1,273.5 440.8,276.7 442.4,279.8 444.0,283.0 445.7,286.1 447.4,289.3 449.1,292.4 450.9,295.5 452.7,298.6 454.5,301.7 456.3,304.8 458.1,307.8 460.0,310.8 461.9,313.8 463.8,316.8 465.8,319.8 467.8,322.8 469.8,325.7 471.8,328.6 473.8,331.5 475.9,334.4 478.0,337.2 480.2,340.1 482.3,342.9 484.5,345.6 486.8,348.4 489.0,351.1 491.3,353.8 493.6,356.5 496.0,359.1 498.3,361.7 500.7,364.3 503.2,366.9 505.6,369.4 508.1,371.9 510.6,374.4 513.2,376.8 515.8,379.2 518.4,381.6 521.0,383.9 523.7,386.2 526.4,388.5 529.1,390.8 531.9,393.0 534.6,395.2 537.4,397.3 540.3,399.5 543.1,401.6 546.0,403.7 548.9,405.7 551.8,407.7 554.7,409.7 557.7,411.7 560.6,413.6 563.6,415.6 566.7,417.4 569.7,419.3 572.7,421.1 575.8,423.0 578.9,424.8 582.0,426.5 585.1,428.3 588.2,430.0 591.3,431.7 594.4,433.4 597.6,435.0 600.8,436.6 603.9,438.2 607.1,439.8 610.3,441.4 613.5,442.9 616.7,444.5 619.9,446.0 623.2,447.5 626.4,448.9 629.6,450.4 632.9,451.8 636.1,453.3 639.4,454.7 642.6,456.1 645.9,457.5 649.2,458.8 652.4,460.2 655.7,461.6 659.0,462.9 662.3,464.3 665.5,465.6 668.8,466.9 672.1,468.2 675.4,469.6 678.7,470.9 682.0,472.2 685.3,473.5 688.5,474.8 691.8,476.2 695.1,477.5 698.4,478.8 701.7,480.1 705.0,481.5 708.3,482.8 711.5,484.1 714.8,485.5 718.1,486.9 721.4,488.2 724.6,489.6 727.9,491.0 731.1,492.4 734.4,493.8 737.6,495.2 740.9,496.6 744.1,498.0 747.4,499.5 750.6,500.9 753.8,502.4 757.1,503.9 760.3,505.3 763.5,506.8 766.8,508.3 770.0,509.8 773.2,511.3 776.4,512.8 779.6,514.4 782.8,515.9 Q807.8,524.5 783.5,535.5 781.3,536.0 779.0,536.5 776.8,537.0 774.5,537.5 772.3,538.0 770.1,538.5 767.8,539.0 765.6,539.5 763.4,540.0 761.1,540.5 758.9,541.0 756.6,541.5 754.4,542.0 752.2,542.5 749.9,543.0 747.7,543.5 745.4,544.0 743.2,544.4 740.9,544.9 738.7,545.4 736.5,545.9 734.2,546.4 732.0,546.9 729.7,547.4 727.5,547.8 725.2,548.3 723.0,548.8 720.8,549.3 718.5,549.8 716.3,550.2 714.0,550.7 711.8,551.2 709.5,551.7 707.3,552.1 705.1,552.6 702.8,553.1 700.6,553.5 698.3,554.0 696.1,554.5 693.8,555.0 691.6,555.4 689.3,555.9 687.1,556.4 684.8,556.8 682.6,557.3 680.4,557.8 678.1,558.2 675.9,558.7 673.6,559.2 671.4,559.6 669.1,560.1 666.9,560.6 664.6,561.0 662.4,561.5 660.1,561.9 657.9,562.4 655.6,562.9 653.4,563.3 651.1,563.8 648.9,564.3 646.6,564.7 644.4,565.2 642.2,565.6 639.9,566.1 637.7,566.6 635.4,567.0 633.2,567.5 630.9,567.9 628.7,568.4 626.4,568.8 624.2,569.3 621.9,569.8 619.7,570.2 617.4,570.7 615.2,571.1 612.9,571.6 610.7,572.1 608.4,572.5 606.2,573.0 603.9,573.4 601.7,573.9 599.4,574.3 597.2,574.8 595.0,575.3 592.7,575.7 590.5,576.2 588.2,576.6 586.0,577.1 583.7,577.6 581.5,578.0 579.2,578.5 577.0,578.9 574.7,579.4 572.5,579.9 570.2,580.3 568.0,580.8 565.7,581.2 563.5,581.7 561.2,582.2 559.0,582.6 556.7,583.1 554.5,583.6 552.3,584.0 550.0,584.5 547.8,584.9 545.5,585.4 543.3,585.9 541.0,586.3 538.8,586.8 536.5,587.3 534.3,587.7 532.0,588.2 529.8,588.7 527.5,589.1 525.3,589.6 523.1,590.1 520.8,590.6 518.6,591.0 516.3,591.5" stroke="#d21a20" stroke-width="4.9"/>
<path d="M132.8,14.0 133.3,17.1 133.8,20.2 134.2,23.3 134.7,26.5 135.2,29.6 135.7,32.7 136.2,35.9 136.7,39.0 137.2,42.1 137.7,45.2 138.1,48.4 138.6,51.5 139.1,54.6 139.6,57.7 140.1,60.9 140.6,64.0 141.1,67.1 141.6,70.3 142.1,73.4 142.6,76.5 143.1,79.6 143.5,82.8 144.0,85.9 144.5,89.0 145.0,92.1 145.5,95.3 146.0,98.4 146.5,101.5 147.0,104.7 147.5,107.8 148.0,110.9 148.5,114.0 149.0,117.2 149.5,120.3 150.0,123.4 150.5,126.5 151.0,129.7 151.5,132.8 152.0,135.9 152.5,139.0 153.0,142.2 153.5,145.3 154.0,148.4 154.5,151.6 155.0,154.7 155.5,157.8 156.0,160.9 156.5,164.1 157.0,167.2 157.5,170.3 158.0,173.4 158.5,176.6 159.0,179.7 159.5,182.8 160.0,185.9 160.5,189.1 161.0,192.2 161.5,195.3 162.0,198.4 162.5,201.6 163.1,204.7 163.6,207.8 164.1,210.9 164.6,214.1 165.1,217.2 165.6,220.3 166.1,223.4 166.6,226.6 167.2,229.7 167.7,232.8 168.2,235.9 168.7,239.1 169.2,242.2 169.8,245.3 170.3,248.4 170.8,251.5 171.3,254.7 171.8,257.8 172.4,260.9 172.9,264.0 173.4,267.2 173.9,270.3 174.5,273.4 175.0,276.5 175.5,279.6 176.0,282.8 176.6,285.9 177.1,289.0 177.6,292.1 178.2,295.2 178.7,298.4 179.2,301.5 179.8,304.6 180.3,307.7 180.9,310.8 181.4,314.0 181.9,317.1 182.5,320.2 183.0,323.3 183.6,326.4 184.1,329.6 184.6,332.7 185.2,335.8 185.7,338.9 186.3,342.0 186.8,345.2 187.4,348.3 187.9,351.4 188.5,354.5 189.0,357.6 189.6,360.7 190.1,363.9 190.7,367.0 191.3,370.1 191.8,373.2 192.4,376.3 192.9,379.4 193.5,382.5 194.1,385.7 194.6,388.8 195.2,391.9 195.7,395.0 196.3,398.1 196.9,401.2 197.5,404.3 198.0,407.5 198.6,410.6 199.2,413.7 199.7,416.8 200.3,419.9 200.9,423.0 201.5,426.1 202.1,429.2 202.6,432.4 203.2,435.5 203.8,438.6 204.4,441.7 205.0,444.8 205.6,447.9 206.1,451.0 206.7,454.1 207.3,457.2 207.9,460.3 208.5,463.4 209.1,466.6 209.7,469.7 210.3,472.8 210.9,475.9 211.5,479.0 212.1,482.1 212.7,485.2 213.3,488.3 213.9,491.4 214.5,494.5 215.1,497.6 215.7,500.7 216.4,503.8 217.0,506.9 217.6,510.0 218.2,513.1 218.8,516.2 219.4,519.3 220.1,522.4 220.7,525.5 221.3,528.7 221.9,531.8 222.6,534.9 223.2,538.0 223.8,541.1 224.5,544.2 225.1,547.3 225.7,550.4 226.4,553.5 227.0,556.6 227.6,559.6 228.3,562.7 228.9,565.8 229.6,568.9 230.2,572.0 230.9,575.1 231.5,578.2 232.2,581.3 232.8,584.4 233.5,587.5 234.1,590.6 234.8,593.7 235.4,596.8 236.1,599.9 236.8,603.0 237.4,606.1 238.1,609.2 238.8,612.3 239.4,615.4 240.1,618.4 240.8,621.5 241.5,624.6 242.1,627.7 242.8,630.8 243.5,633.9" stroke="#6ff020" stroke-width="5"/>
<path d="M133.2,19.5 133.7,22.1 134.1,24.7 134.6,27.3 135.1,29.9 135.6,32.4 136.0,35.0 136.5,37.6 136.9,40.2 137.4,42.8 137.9,45.4 138.3,47.9 138.8,50.5 139.2,53.1 139.7,55.7 140.1,58.3 140.6,60.9 141.0,63.5 141.4,66.1 141.9,68.6 142.3,71.2 142.7,73.8 143.2,76.4 143.6,79.0 144.0,81.6 144.4,84.2 144.9,86.8 145.3,89.4 145.7,92.0 146.1,94.6 146.5,97.1 147.0,99.7 147.4,102.3 147.8,104.9 148.2,107.5 148.6,110.1 149.0,112.7 149.4,115.3 149.8,117.9 150.2,120.5 150.6,123.1 151.0,125.7 151.4,128.3 151.8,130.9 152.2,133.5 152.6,136.1 153.0,138.7 153.4,141.3 153.8,143.9 154.2,146.5 154.6,149.1 155.0,151.7 155.4,154.2 155.8,156.8 156.2,159.4 156.6,162.0 157.0,164.6 157.3,167.2 157.7,169.8 158.1,172.4 158.5,175.0 158.9,177.6 159.3,180.2 159.7,182.8 160.1,185.4 160.5,188.0 160.9,190.6 161.3,193.2 161.7,195.8 162.0,198.4 162.4,201.0 162.8,203.6 163.2,206.2 163.6,208.8 164.0,211.4 164.4,214.0 164.8,216.6 165.2,219.2 165.6,221.8 166.0,224.4 166.4,227.0 166.8,229.6 167.2,232.2 167.6,234.8 168.0,237.4 168.4,239.9 168.8,242.5 169.2,245.1 169.6,247.7 170.0,250.3 170.5,252.9 170.9,255.5 171.3,258.1 171.7,260.7 172.1,263.3 172.5,265.9 173.0,268.5 173.4,271.1 173.8,273.7 174.2,276.3 174.7,278.8 175.1,281.4 175.5,284.0 176.0,286.6 176.4,289.2 176.8,291.8 177.3,294.4 177.7,297.0 178.2,299.5 178.6,302.1 179.1,304.7 179.5,307.3 180.0,309.9 180.4,312.5 180.9,315.1 181.3,317.6 181.8,320.2 182.3,322.8 182.7,325.4 183.2,328.0 183.7,330.6 184.2,333.1 184.7,335.7 185.1,338.3 185.6,340.9 186.1,343.5 186.6,346.0 187.1,348.6 187.6,351.2 188.1,353.8 188.6,356.3 189.1,358.9 189.6,361.5 190.2,364.1 190.7,366.6 191.2,369.2 191.7,371.8 192.3,374.3 192.8,376.9 193.4,379.5 193.9,382.0 194.4,384.6 195.0,387.2 195.6,389.7 196.1,392.3 196.7,394.9 197.2,397.4 197.8,400.0 198.4,402.6 199.0,405.1" stroke="#1c1c1c" stroke-width="7" stroke-dasharray="8.3 7.5" stroke-dashoffset="-0.8"/>
<path d="M199.5,405 Q205,432.6 237.5,437.5 237.6,437.8 238.8,438.0 239.9,438.1 241.1,438.3 242.3,438.4 243.5,438.6 244.6,438.7 245.8,438.9 247.0,439.0 248.2,439.1 249.3,439.3 250.5,439.4 251.7,439.5 252.9,439.6 254.1,439.7 255.3,439.8 256.5,439.9 257.6,440.0 258.8,440.1 260.0,440.2 261.2,440.3 262.4,440.4 263.6,440.4 264.8,440.5 266.0,440.6 267.2,440.7 268.4,440.7 269.6,440.8 270.8,440.8 272.0,440.9 273.2,440.9 274.4,441.0 275.6,441.0 276.8,441.1 278.0,441.1 279.2,441.2 280.4,441.2 281.6,441.2 282.8,441.3 284.0,441.3 285.2,441.3 286.4,441.3 287.6,441.4 288.8,441.4 290.0,441.4 291.2,441.4 292.4,441.4 293.6,441.5 294.8,441.5 296.0,441.5 297.2,441.5 298.4,441.5 299.6,441.5 300.8,441.6 302.0,441.6 303.2,441.6 304.4,441.6 305.6,441.6 306.9,441.6 308.1,441.6 309.3,441.6 310.5,441.7 311.7,441.7 312.9,441.7 314.1,441.7 315.3,441.7 316.5,441.7 317.7,441.8 318.9,441.8 320.1,441.8 321.3,441.8 322.5,441.8 323.8,441.9 325.0,441.9 326.2,441.9 327.4,441.9 328.6,442.0 329.8,442.0 331.0,442.0 332.2,442.1 333.4,442.1 334.6,442.1 335.8,442.2 337.0,442.2 338.2,442.3 339.4,442.3 340.6,442.4 341.8,442.4 343.0,442.5 344.2,442.6 345.4,442.6 346.6,442.7 347.8,442.8 349.0,442.9 350.2,442.9 351.4,443.0 352.6,443.1 353.8,443.2 355.0,443.3 356.2,443.4 357.3,443.5 358.5,443.6 359.7,443.7 360.9,443.8 362.1,443.9 363.3,444.1 364.5,444.2 365.7,444.3 366.9,444.5 368.0,444.6 369.2,444.8 370.4,444.9 371.6,445.1 372.8,445.3 373.9,445.4 375.1,445.6 376.3,445.8 377.5,446.0 378.6,446.2 379.8,446.4 381.0,446.6 382.2,446.8 383.3,447.0 384.5,447.3 385.7,447.5 386.8,447.7 388.0,448.0 389.2,448.3 390.3,448.5 391.5,448.8 392.6,449.1 393.8,449.3 395.0,449.6 396.1,449.9 397.3,450.2 398.4,450.6 399.6,450.9 400.7,451.2 401.9,451.6 403.0,451.9 404.2,452.3 405.3,452.6 406.4,453.0 407.6,453.4 408.7,453.8 409.9,454.2 411.0,454.6 412.1,455.0 413.3,455.4 414.4,455.8" stroke="#1c1c1c" stroke-width="7" stroke-dasharray="8 8" stroke-dashoffset="12.8"/>
</g>
<path d="M422.4,449.1 L412.6,464.7 L439,471.3 Z" fill="#222"/>
<text font-family="Liberation Sans, sans-serif" font-size="22.5" fill="#111" stroke="#111" stroke-width="0.35" x="227.8" y="618.5" textLength="14" lengthAdjust="spacingAndGlyphs">T</text>
<text class="sans" font-size="17.5" fill="#111" x="243.3" y="625.4" textLength="61" lengthAdjust="spacingAndGlyphs">charge</text>
<rect x="269.5" y="232" width="81" height="162" fill="#fff"/>
<rect x="395" y="541" width="118" height="53" fill="#fff"/>
<rect x="538" y="455.5" width="58" height="25" fill="#fff"/>
<rect x="689" y="396.5" width="86" height="64" fill="#fff"/>
<g fill="#000"><rect x="76.3" y="16" width="836" height="6.2"/><rect x="76.3" y="628.8" width="836" height="4.8"/><rect x="76.3" y="16" width="4.5" height="617.6"/><rect x="907.5" y="16" width="4.8" height="617.6"/></g>
<rect x="499.5" y="129.5" width="511" height="113" fill="#fff" stroke="#000" stroke-width="3"/>
<text class="serif" font-size="28" fill="#000" x="507" y="160.9" textLength="469.5" lengthAdjust="spacingAndGlyphs">Increased mixing comes from longer</text>
<text class="serif" font-size="28" fill="#000" x="507" y="194.3" textLength="484.5" lengthAdjust="spacingAndGlyphs">ignition delay via reduction in charge</text>
<text class="serif" font-size="28" fill="#000" x="507" y="228.1" textLength="313.5" lengthAdjust="spacingAndGlyphs">temperature at injection</text>
<path d="M299,291.8 L316.6,291.8 L316.6,340.5 L324.6,340.5 L307.6,390.3 L290.6,340.5 L299,340.5 Z" fill="#000"/>
<path d="M391.4,560 L391.4,575.7 L337.3,575.7 L337.3,583.3 L282.7,568 L337.3,552.3 L337.3,560 Z" fill="#000"/>
<text class="serif" font-size="25" fill="#000" x="280.1" y="255.6" textLength="47.4" lengthAdjust="spacingAndGlyphs">Soot</text>
<text class="serif" font-size="24" fill="#000" x="252.2" y="279.7" textLength="108" lengthAdjust="spacingAndGlyphs">reduction</text>
<text class="serif" font-size="25" fill="#000" x="424.1" y="564.8" textLength="52.9" lengthAdjust="spacingAndGlyphs">NOx</text>
<text class="serif" font-size="24" fill="#000" x="399.5" y="589.7" textLength="107.9" lengthAdjust="spacingAndGlyphs">reduction</text>
<text class="serif" font-size="26" fill="#000" x="472.5" y="481.9" textLength="38.7" lengthAdjust="spacingAndGlyphs">8%</text>
<text class="serif" font-size="26" fill="#000" x="541.1" y="475.7" textLength="50.9" lengthAdjust="spacingAndGlyphs">15%</text>
<text class="serif" font-size="26" fill="#000" x="690.5" y="414.2">T</text>
<text class="serif" font-size="26" fill="#000" x="706.9" y="422.4" textLength="61.3" lengthAdjust="spacingAndGlyphs">flame</text>
<text class="serif" font-size="26" fill="#000" x="690.2" y="453.8" textLength="81.7" lengthAdjust="spacingAndGlyphs">21% O</text>
<text class="serif" font-size="25" fill="#000" x="771.9" y="459.3">2</text>
<text class="sans" font-size="23" fill="#111" x="588.3" y="303.4" textLength="51.3" lengthAdjust="spacingAndGlyphs">soot</text>
<text class="sans" font-size="23" fill="#111" x="551.4" y="332.7" textLength="124.5" lengthAdjust="spacingAndGlyphs">production</text>
<text class="sans" font-size="23" fill="#111" x="586.6" y="362.8" textLength="54.5" lengthAdjust="spacingAndGlyphs">zone</text>
<text class="sans" font-size="22" fill="#111" x="699.8" y="589.3" textLength="34.2" lengthAdjust="spacingAndGlyphs">NO</text>
<text font-family="Liberation Sans, sans-serif" font-size="16" fill="#111" x="733.2" y="597.3">X</text>
<text class="sans" font-size="22" fill="#111" x="753.5" y="589.3" textLength="123" lengthAdjust="spacingAndGlyphs">production</text>
<text class="sans" font-size="22" fill="#111" x="761.3" y="617.6" textLength="52.7" lengthAdjust="spacingAndGlyphs">zone</text>
<text class="sans" font-size="24" fill="#000" x="67" y="640.2" text-anchor="end">0</text>
<text class="sans" font-size="24" fill="#000" x="67" y="536.7" text-anchor="end">1</text>
<text class="sans" font-size="24" fill="#000" x="67" y="435.1" text-anchor="end">2</text>
<text class="sans" font-size="24" fill="#000" x="67" y="333.4" text-anchor="end">3</text>
<text class="sans" font-size="24" fill="#000" x="67" y="232.4" text-anchor="end">4</text>
<text class="sans" font-size="24" fill="#000" x="67" y="129.6" text-anchor="end">5</text>
<text class="sans" font-size="24" fill="#000" x="67" y="29.2" text-anchor="end">6</text>
<text class="sans" font-size="23" fill="#000" x="78.3" y="662.4" text-anchor="middle" textLength="40.3" lengthAdjust="spacingAndGlyphs">500</text>
<text class="sans" font-size="23" fill="#000" x="241.8" y="662.4" text-anchor="middle" textLength="53.7" lengthAdjust="spacingAndGlyphs">1000</text>
<text class="sans" font-size="23" fill="#000" x="407.0" y="662.4" text-anchor="middle" textLength="53.7" lengthAdjust="spacingAndGlyphs">1500</text>
<text class="sans" font-size="23" fill="#000" x="574.0" y="662.4" text-anchor="middle" textLength="53.7" lengthAdjust="spacingAndGlyphs">2000</text>
<text class="sans" font-size="23" fill="#000" x="739.6" y="662.4" text-anchor="middle" textLength="53.7" lengthAdjust="spacingAndGlyphs">2500</text>
<text class="sans" font-size="23" fill="#000" x="907.2" y="662.4" text-anchor="middle" textLength="53.7" lengthAdjust="spacingAndGlyphs">3000</text>
<text class="sans" font-size="26" fill="#000" x="382.9" y="701.6" textLength="212" lengthAdjust="spacingAndGlyphs">Temperature (K)</text>
<text class="sans" font-size="27" fill="#000" transform="translate(32.1,466) rotate(-90)" x="0" y="0" textLength="280" lengthAdjust="spacingAndGlyphs">Equivalence Ratio (ϕ)</text>
</svg>
</body></html>
